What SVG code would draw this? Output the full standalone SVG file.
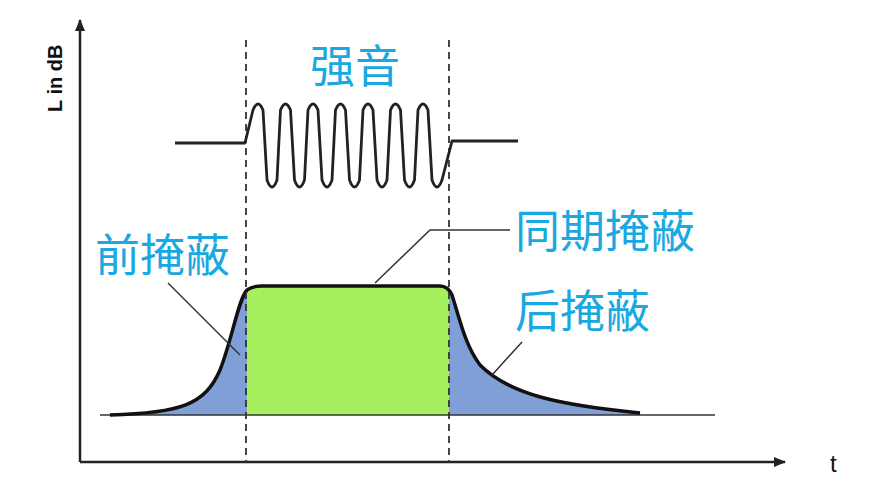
<svg xmlns="http://www.w3.org/2000/svg" width="872" height="498" viewBox="0 0 872 498">
<defs>
<marker id="ah" markerWidth="12" markerHeight="10" refX="11" refY="5" orient="auto" markerUnits="userSpaceOnUse"><path d="M0,0 L12,5 L0,10 Z" fill="#222"/></marker>
<style>
.lbl{font-family:"Noto Sans CJK SC",sans-serif;font-size:45px;fill:#1aa8e0}
.ax{stroke:#222;stroke-width:2.5;fill:none}
.dash{stroke:#333;stroke-width:1.8;stroke-dasharray:7,5;fill:none}
.thin{stroke:#333;stroke-width:1.5;fill:none}
</style>
</defs>
<rect width="872" height="498" fill="#fff"/>
<g id="fills">
<path d="M110,415 C180,413 205,405 220,370 C232,340 238,300 247,290 L247,415 Z" fill="#7f9fd6"/>
<path d="M449,290 C458,310 462,345 480,365 C510,395 560,405 640,413 L640,415 L449,415 Z" fill="#7f9fd6"/>
<rect id="green" x="247" y="287" width="202" height="128" fill="#a6f060"/>
</g>
<g id="baseline"><line x1="100" y1="415" x2="715" y2="415" class="thin"/></g>
<g id="curve"><path d="M110,415 C180,413 205,405 220,370 C232,340 238,300 247,290 Q252,286 262,286 L440,286 Q448,286 452,295 C460,320 465,345 480,365 C510,395 560,405 640,413" stroke="#111" stroke-width="3.5" fill="none"/></g>
<g id="axes">
<line x1="80" y1="462" x2="80" y2="20" class="ax" marker-end="url(#ah)"/>
<line x1="80" y1="462" x2="785" y2="462" class="ax" marker-end="url(#ah)"/>
</g>
<g id="dashes">
<line x1="246" y1="40" x2="246" y2="462" class="dash"/>
<line x1="449" y1="40" x2="449" y2="462" class="dash"/>
</g>
<g id="wave"><path d="M175,143 L245,143 L253,110 Q258,98 263,110 L267,180 Q272,194 277,180 L280.5,110 Q285.5,98 290.5,110 L294.5,180 Q299.5,194 304.5,180 L308,110 Q313,98 318,110 L322,180 Q327,194 332,180 L335.5,110 Q340.5,98 345.5,110 L349.5,180 Q354.5,194 359.5,180 L363,110 Q368,98 373,110 L377,180 Q382,194 387,180 L390.5,110 Q395.5,98 400.5,110 L404.5,180 Q409.5,194 414.5,180 L418,110 Q423,98 428,110 L432,180 Q437,194 442,180 L452,141 L518,141" stroke="#222" stroke-width="2.8" fill="none" stroke-linejoin="round"/></g>
<g id="leaders">
<line x1="168" y1="283" x2="240" y2="355" class="thin"/>
<polyline points="375,283 430,230 510,230" class="thin"/>
<line x1="492" y1="375" x2="522" y2="342" class="thin"/>
</g>
<g id="labels">
<text x="310" y="83" class="lbl">强音</text>
<text x="95" y="272" class="lbl">前掩蔽</text>
<text x="515" y="248" class="lbl">同期掩蔽</text>
<text x="515" y="328" class="lbl">后掩蔽</text>
<text x="830" y="472" font-family="Liberation Sans,sans-serif" font-size="24" fill="#111">t</text>
<text transform="translate(62,112) rotate(-90)" font-family="Liberation Sans,sans-serif" font-size="20" font-weight="bold" fill="#111">L in dB</text>
</g>
</svg>
